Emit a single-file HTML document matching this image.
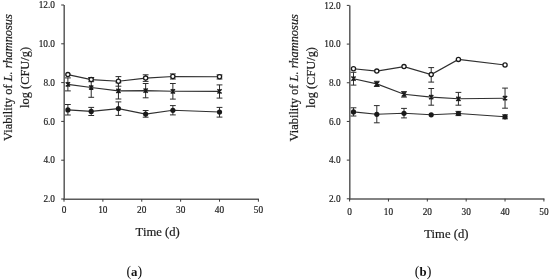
<!DOCTYPE html>
<html><head><meta charset="utf-8"><style>
html,body{margin:0;padding:0;background:#fff;}
body{width:550px;height:280px;overflow:hidden;}
svg{display:block;}

text{font-family:"Liberation Serif", serif;fill:#1c1c1c;}
.tk{font-size:9.3px;stroke:#1c1c1c;stroke-width:0.18px;}
.tt{font-size:12.2px;stroke:#1c1c1c;stroke-width:0.2px;}
.t2{font-size:12.4px;}
.cap{font-size:14px;fill:#111;}
</style></head><body>
<div class="wrap"><svg width="550" height="280" viewBox="0 0 550 280">
<rect width="550" height="280" fill="#fff"/>
<line x1="64.2" y1="5" x2="64.2" y2="199.75" stroke="#5a5a5a" stroke-width="1.5"/>
<line x1="63.45" y1="199.2" x2="258.9" y2="199.2" stroke="#5a5a5a" stroke-width="1.5"/>
<line x1="61.2" y1="5.00" x2="64" y2="5.00" stroke="#383838" stroke-width="1"/>
<text x="55.0" y="8.10" text-anchor="end" class="tk">12.0</text>
<line x1="61.2" y1="43.80" x2="64" y2="43.80" stroke="#383838" stroke-width="1"/>
<text x="55.0" y="46.90" text-anchor="end" class="tk">10.0</text>
<line x1="61.2" y1="82.60" x2="64" y2="82.60" stroke="#383838" stroke-width="1"/>
<text x="55.0" y="85.70" text-anchor="end" class="tk">8.0</text>
<line x1="61.2" y1="121.40" x2="64" y2="121.40" stroke="#383838" stroke-width="1"/>
<text x="55.0" y="124.50" text-anchor="end" class="tk">6.0</text>
<line x1="61.2" y1="160.20" x2="64" y2="160.20" stroke="#383838" stroke-width="1"/>
<text x="55.0" y="163.30" text-anchor="end" class="tk">4.0</text>
<line x1="61.2" y1="199.00" x2="64" y2="199.00" stroke="#383838" stroke-width="1"/>
<text x="55.0" y="202.10" text-anchor="end" class="tk">2.0</text>
<line x1="64.00" y1="199" x2="64.00" y2="201.7" stroke="#383838" stroke-width="1"/>
<text x="64.00" y="212.50" text-anchor="middle" class="tk">0</text>
<line x1="102.88" y1="199" x2="102.88" y2="201.7" stroke="#383838" stroke-width="1"/>
<text x="102.88" y="212.50" text-anchor="middle" class="tk">10</text>
<line x1="141.76" y1="199" x2="141.76" y2="201.7" stroke="#383838" stroke-width="1"/>
<text x="141.76" y="212.50" text-anchor="middle" class="tk">20</text>
<line x1="180.64" y1="199" x2="180.64" y2="201.7" stroke="#383838" stroke-width="1"/>
<text x="180.64" y="212.50" text-anchor="middle" class="tk">30</text>
<line x1="219.52" y1="199" x2="219.52" y2="201.7" stroke="#383838" stroke-width="1"/>
<text x="219.52" y="212.50" text-anchor="middle" class="tk">40</text>
<line x1="258.40" y1="199" x2="258.40" y2="201.7" stroke="#383838" stroke-width="1"/>
<text x="258.40" y="212.50" text-anchor="middle" class="tk">50</text>
<line x1="91.22" y1="77.5" x2="91.22" y2="81.7" stroke="#2c2c2c" stroke-width="1"/>
<line x1="88.32" y1="77.5" x2="94.12" y2="77.5" stroke="#2c2c2c" stroke-width="1"/>
<line x1="88.32" y1="81.7" x2="94.12" y2="81.7" stroke="#2c2c2c" stroke-width="1"/>
<line x1="118.43" y1="76.6" x2="118.43" y2="86.2" stroke="#2c2c2c" stroke-width="1"/>
<line x1="115.53" y1="76.6" x2="121.33" y2="76.6" stroke="#2c2c2c" stroke-width="1"/>
<line x1="115.53" y1="86.2" x2="121.33" y2="86.2" stroke="#2c2c2c" stroke-width="1"/>
<line x1="145.65" y1="74.8" x2="145.65" y2="81.4" stroke="#2c2c2c" stroke-width="1"/>
<line x1="142.75" y1="74.8" x2="148.55" y2="74.8" stroke="#2c2c2c" stroke-width="1"/>
<line x1="142.75" y1="81.4" x2="148.55" y2="81.4" stroke="#2c2c2c" stroke-width="1"/>
<line x1="172.86" y1="73.9" x2="172.86" y2="79.0" stroke="#2c2c2c" stroke-width="1"/>
<line x1="169.96" y1="73.9" x2="175.76" y2="73.9" stroke="#2c2c2c" stroke-width="1"/>
<line x1="169.96" y1="79.0" x2="175.76" y2="79.0" stroke="#2c2c2c" stroke-width="1"/>
<line x1="219.52" y1="74.9" x2="219.52" y2="79.0" stroke="#2c2c2c" stroke-width="1"/>
<line x1="216.62" y1="74.9" x2="222.42" y2="74.9" stroke="#2c2c2c" stroke-width="1"/>
<line x1="216.62" y1="79.0" x2="222.42" y2="79.0" stroke="#2c2c2c" stroke-width="1"/>
<polyline points="67.89,74.60 91.22,79.60 118.43,81.30 145.65,78.10 172.86,76.50 219.52,76.80" fill="none" stroke="#303030" stroke-width="1.1"/>
<line x1="67.89" y1="77.9" x2="67.89" y2="90.9" stroke="#2c2c2c" stroke-width="1"/>
<line x1="64.99" y1="77.9" x2="70.79" y2="77.9" stroke="#2c2c2c" stroke-width="1"/>
<line x1="64.99" y1="90.9" x2="70.79" y2="90.9" stroke="#2c2c2c" stroke-width="1"/>
<line x1="91.22" y1="77.8" x2="91.22" y2="97.3" stroke="#2c2c2c" stroke-width="1"/>
<line x1="88.32" y1="77.8" x2="94.12" y2="77.8" stroke="#2c2c2c" stroke-width="1"/>
<line x1="88.32" y1="97.3" x2="94.12" y2="97.3" stroke="#2c2c2c" stroke-width="1"/>
<line x1="118.43" y1="82.8" x2="118.43" y2="99.0" stroke="#2c2c2c" stroke-width="1"/>
<line x1="115.53" y1="82.8" x2="121.33" y2="82.8" stroke="#2c2c2c" stroke-width="1"/>
<line x1="115.53" y1="99.0" x2="121.33" y2="99.0" stroke="#2c2c2c" stroke-width="1"/>
<line x1="145.65" y1="83.5" x2="145.65" y2="97.8" stroke="#2c2c2c" stroke-width="1"/>
<line x1="142.75" y1="83.5" x2="148.55" y2="83.5" stroke="#2c2c2c" stroke-width="1"/>
<line x1="142.75" y1="97.8" x2="148.55" y2="97.8" stroke="#2c2c2c" stroke-width="1"/>
<line x1="172.86" y1="83.5" x2="172.86" y2="99.1" stroke="#2c2c2c" stroke-width="1"/>
<line x1="169.96" y1="83.5" x2="175.76" y2="83.5" stroke="#2c2c2c" stroke-width="1"/>
<line x1="169.96" y1="99.1" x2="175.76" y2="99.1" stroke="#2c2c2c" stroke-width="1"/>
<line x1="219.52" y1="84.9" x2="219.52" y2="98.1" stroke="#2c2c2c" stroke-width="1"/>
<line x1="216.62" y1="84.9" x2="222.42" y2="84.9" stroke="#2c2c2c" stroke-width="1"/>
<line x1="216.62" y1="98.1" x2="222.42" y2="98.1" stroke="#2c2c2c" stroke-width="1"/>
<polyline points="67.89,84.40 91.22,87.50 118.43,90.90 145.65,90.60 172.86,91.30 219.52,91.40" fill="none" stroke="#303030" stroke-width="1.1"/>
<line x1="67.89" y1="104.5" x2="67.89" y2="115.0" stroke="#2c2c2c" stroke-width="1"/>
<line x1="64.99" y1="104.5" x2="70.79" y2="104.5" stroke="#2c2c2c" stroke-width="1"/>
<line x1="64.99" y1="115.0" x2="70.79" y2="115.0" stroke="#2c2c2c" stroke-width="1"/>
<line x1="91.22" y1="107.4" x2="91.22" y2="115.5" stroke="#2c2c2c" stroke-width="1"/>
<line x1="88.32" y1="107.4" x2="94.12" y2="107.4" stroke="#2c2c2c" stroke-width="1"/>
<line x1="88.32" y1="115.5" x2="94.12" y2="115.5" stroke="#2c2c2c" stroke-width="1"/>
<line x1="118.43" y1="101.9" x2="118.43" y2="115.4" stroke="#2c2c2c" stroke-width="1"/>
<line x1="115.53" y1="101.9" x2="121.33" y2="101.9" stroke="#2c2c2c" stroke-width="1"/>
<line x1="115.53" y1="115.4" x2="121.33" y2="115.4" stroke="#2c2c2c" stroke-width="1"/>
<line x1="145.65" y1="110.5" x2="145.65" y2="117.2" stroke="#2c2c2c" stroke-width="1"/>
<line x1="142.75" y1="110.5" x2="148.55" y2="110.5" stroke="#2c2c2c" stroke-width="1"/>
<line x1="142.75" y1="117.2" x2="148.55" y2="117.2" stroke="#2c2c2c" stroke-width="1"/>
<line x1="172.86" y1="105.6" x2="172.86" y2="114.9" stroke="#2c2c2c" stroke-width="1"/>
<line x1="169.96" y1="105.6" x2="175.76" y2="105.6" stroke="#2c2c2c" stroke-width="1"/>
<line x1="169.96" y1="114.9" x2="175.76" y2="114.9" stroke="#2c2c2c" stroke-width="1"/>
<line x1="219.52" y1="107.4" x2="219.52" y2="117.1" stroke="#2c2c2c" stroke-width="1"/>
<line x1="216.62" y1="107.4" x2="222.42" y2="107.4" stroke="#2c2c2c" stroke-width="1"/>
<line x1="216.62" y1="117.1" x2="222.42" y2="117.1" stroke="#2c2c2c" stroke-width="1"/>
<polyline points="67.89,109.90 91.22,111.40 118.43,108.60 145.65,114.10 172.86,110.30 219.52,112.00" fill="none" stroke="#303030" stroke-width="1.1"/>
<circle cx="67.89" cy="74.6" r="2.1" fill="#fff" stroke="#1a1a1a" stroke-width="1.3"/>
<circle cx="91.22" cy="79.6" r="2.1" fill="#fff" stroke="#1a1a1a" stroke-width="1.3"/>
<circle cx="118.43" cy="81.3" r="2.1" fill="#fff" stroke="#1a1a1a" stroke-width="1.3"/>
<circle cx="145.65" cy="78.1" r="2.1" fill="#fff" stroke="#1a1a1a" stroke-width="1.3"/>
<circle cx="172.86" cy="76.5" r="2.1" fill="#fff" stroke="#1a1a1a" stroke-width="1.3"/>
<circle cx="219.52" cy="76.8" r="2.1" fill="#fff" stroke="#1a1a1a" stroke-width="1.3"/>
<circle cx="67.89" cy="109.9" r="2.6" fill="#1a1a1a"/>
<circle cx="91.22" cy="111.4" r="2.6" fill="#1a1a1a"/>
<circle cx="118.43" cy="108.6" r="2.6" fill="#1a1a1a"/>
<circle cx="145.65" cy="114.1" r="2.6" fill="#1a1a1a"/>
<circle cx="172.86" cy="110.3" r="2.6" fill="#1a1a1a"/>
<circle cx="219.52" cy="112.0" r="2.6" fill="#1a1a1a"/>
<path d="M65.79,82.30L69.99,86.50M65.79,86.50L69.99,82.30M67.89,82.00L67.89,86.80" stroke="#1a1a1a" stroke-width="1.4" fill="none"/>
<path d="M89.12,85.40L93.32,89.60M89.12,89.60L93.32,85.40M91.22,85.10L91.22,89.90" stroke="#1a1a1a" stroke-width="1.4" fill="none"/>
<path d="M116.33,88.80L120.53,93.00M116.33,93.00L120.53,88.80M118.43,88.50L118.43,93.30" stroke="#1a1a1a" stroke-width="1.4" fill="none"/>
<path d="M143.55,88.50L147.75,92.70M143.55,92.70L147.75,88.50M145.65,88.20L145.65,93.00" stroke="#1a1a1a" stroke-width="1.4" fill="none"/>
<path d="M170.76,89.20L174.96,93.40M170.76,93.40L174.96,89.20M172.86,88.90L172.86,93.70" stroke="#1a1a1a" stroke-width="1.4" fill="none"/>
<path d="M217.42,89.30L221.62,93.50M217.42,93.50L221.62,89.30M219.52,89.00L219.52,93.80" stroke="#1a1a1a" stroke-width="1.4" fill="none"/>
<line x1="349.8" y1="5.4" x2="349.8" y2="199.55" stroke="#5a5a5a" stroke-width="1.5"/>
<line x1="349.05" y1="199.0" x2="544.4" y2="199.0" stroke="#5a5a5a" stroke-width="1.5"/>
<line x1="346.8" y1="5.40" x2="349.6" y2="5.40" stroke="#383838" stroke-width="1"/>
<text x="340.6" y="8.50" text-anchor="end" class="tk">12.0</text>
<line x1="346.8" y1="44.08" x2="349.6" y2="44.08" stroke="#383838" stroke-width="1"/>
<text x="340.6" y="47.18" text-anchor="end" class="tk">10.0</text>
<line x1="346.8" y1="82.76" x2="349.6" y2="82.76" stroke="#383838" stroke-width="1"/>
<text x="340.6" y="85.86" text-anchor="end" class="tk">8.0</text>
<line x1="346.8" y1="121.44" x2="349.6" y2="121.44" stroke="#383838" stroke-width="1"/>
<text x="340.6" y="124.54" text-anchor="end" class="tk">6.0</text>
<line x1="346.8" y1="160.12" x2="349.6" y2="160.12" stroke="#383838" stroke-width="1"/>
<text x="340.6" y="163.22" text-anchor="end" class="tk">4.0</text>
<line x1="346.8" y1="198.80" x2="349.6" y2="198.80" stroke="#383838" stroke-width="1"/>
<text x="340.6" y="201.90" text-anchor="end" class="tk">2.0</text>
<line x1="349.60" y1="198.8" x2="349.60" y2="201.5" stroke="#383838" stroke-width="1"/>
<text x="349.60" y="215.00" text-anchor="middle" class="tk">0</text>
<line x1="388.46" y1="198.8" x2="388.46" y2="201.5" stroke="#383838" stroke-width="1"/>
<text x="388.46" y="215.00" text-anchor="middle" class="tk">10</text>
<line x1="427.32" y1="198.8" x2="427.32" y2="201.5" stroke="#383838" stroke-width="1"/>
<text x="427.32" y="215.00" text-anchor="middle" class="tk">20</text>
<line x1="466.18" y1="198.8" x2="466.18" y2="201.5" stroke="#383838" stroke-width="1"/>
<text x="466.18" y="215.00" text-anchor="middle" class="tk">30</text>
<line x1="505.04" y1="198.8" x2="505.04" y2="201.5" stroke="#383838" stroke-width="1"/>
<text x="505.04" y="215.00" text-anchor="middle" class="tk">40</text>
<line x1="543.90" y1="198.8" x2="543.90" y2="201.5" stroke="#383838" stroke-width="1"/>
<text x="543.90" y="215.00" text-anchor="middle" class="tk">50</text>
<line x1="431.21" y1="67.6" x2="431.21" y2="82.1" stroke="#2c2c2c" stroke-width="1"/>
<line x1="428.31" y1="67.6" x2="434.11" y2="67.6" stroke="#2c2c2c" stroke-width="1"/>
<line x1="428.31" y1="82.1" x2="434.11" y2="82.1" stroke="#2c2c2c" stroke-width="1"/>
<polyline points="353.49,68.70 376.80,71.10 404.00,66.60 431.21,74.60 458.41,59.40 505.04,65.00" fill="none" stroke="#303030" stroke-width="1.1"/>
<line x1="353.49" y1="72.3" x2="353.49" y2="85.1" stroke="#2c2c2c" stroke-width="1"/>
<line x1="350.59" y1="72.3" x2="356.39" y2="72.3" stroke="#2c2c2c" stroke-width="1"/>
<line x1="350.59" y1="85.1" x2="356.39" y2="85.1" stroke="#2c2c2c" stroke-width="1"/>
<line x1="376.80" y1="81.3" x2="376.80" y2="86.5" stroke="#2c2c2c" stroke-width="1"/>
<line x1="373.90" y1="81.3" x2="379.70" y2="81.3" stroke="#2c2c2c" stroke-width="1"/>
<line x1="373.90" y1="86.5" x2="379.70" y2="86.5" stroke="#2c2c2c" stroke-width="1"/>
<line x1="404.00" y1="91.6" x2="404.00" y2="97.1" stroke="#2c2c2c" stroke-width="1"/>
<line x1="401.10" y1="91.6" x2="406.90" y2="91.6" stroke="#2c2c2c" stroke-width="1"/>
<line x1="401.10" y1="97.1" x2="406.90" y2="97.1" stroke="#2c2c2c" stroke-width="1"/>
<line x1="431.21" y1="88.5" x2="431.21" y2="105.2" stroke="#2c2c2c" stroke-width="1"/>
<line x1="428.31" y1="88.5" x2="434.11" y2="88.5" stroke="#2c2c2c" stroke-width="1"/>
<line x1="428.31" y1="105.2" x2="434.11" y2="105.2" stroke="#2c2c2c" stroke-width="1"/>
<line x1="458.41" y1="92.4" x2="458.41" y2="105.2" stroke="#2c2c2c" stroke-width="1"/>
<line x1="455.51" y1="92.4" x2="461.31" y2="92.4" stroke="#2c2c2c" stroke-width="1"/>
<line x1="455.51" y1="105.2" x2="461.31" y2="105.2" stroke="#2c2c2c" stroke-width="1"/>
<line x1="505.04" y1="88.1" x2="505.04" y2="108.2" stroke="#2c2c2c" stroke-width="1"/>
<line x1="502.14" y1="88.1" x2="507.94" y2="88.1" stroke="#2c2c2c" stroke-width="1"/>
<line x1="502.14" y1="108.2" x2="507.94" y2="108.2" stroke="#2c2c2c" stroke-width="1"/>
<polyline points="353.49,78.70 376.80,83.90 404.00,94.30 431.21,97.10 458.41,98.80 505.04,98.20" fill="none" stroke="#303030" stroke-width="1.1"/>
<line x1="353.49" y1="107.8" x2="353.49" y2="116.0" stroke="#2c2c2c" stroke-width="1"/>
<line x1="350.59" y1="107.8" x2="356.39" y2="107.8" stroke="#2c2c2c" stroke-width="1"/>
<line x1="350.59" y1="116.0" x2="356.39" y2="116.0" stroke="#2c2c2c" stroke-width="1"/>
<line x1="376.80" y1="105.6" x2="376.80" y2="122.8" stroke="#2c2c2c" stroke-width="1"/>
<line x1="373.90" y1="105.6" x2="379.70" y2="105.6" stroke="#2c2c2c" stroke-width="1"/>
<line x1="373.90" y1="122.8" x2="379.70" y2="122.8" stroke="#2c2c2c" stroke-width="1"/>
<line x1="404.00" y1="108.4" x2="404.00" y2="117.9" stroke="#2c2c2c" stroke-width="1"/>
<line x1="401.10" y1="108.4" x2="406.90" y2="108.4" stroke="#2c2c2c" stroke-width="1"/>
<line x1="401.10" y1="117.9" x2="406.90" y2="117.9" stroke="#2c2c2c" stroke-width="1"/>
<line x1="458.41" y1="111.4" x2="458.41" y2="115.6" stroke="#2c2c2c" stroke-width="1"/>
<line x1="455.51" y1="111.4" x2="461.31" y2="111.4" stroke="#2c2c2c" stroke-width="1"/>
<line x1="455.51" y1="115.6" x2="461.31" y2="115.6" stroke="#2c2c2c" stroke-width="1"/>
<line x1="505.04" y1="114.8" x2="505.04" y2="118.8" stroke="#2c2c2c" stroke-width="1"/>
<line x1="502.14" y1="114.8" x2="507.94" y2="114.8" stroke="#2c2c2c" stroke-width="1"/>
<line x1="502.14" y1="118.8" x2="507.94" y2="118.8" stroke="#2c2c2c" stroke-width="1"/>
<polyline points="353.49,111.90 376.80,114.30 404.00,113.30 431.21,114.80 458.41,113.50 505.04,116.80" fill="none" stroke="#303030" stroke-width="1.1"/>
<circle cx="353.49" cy="68.7" r="2.1" fill="#fff" stroke="#1a1a1a" stroke-width="1.3"/>
<circle cx="376.80" cy="71.1" r="2.1" fill="#fff" stroke="#1a1a1a" stroke-width="1.3"/>
<circle cx="404.00" cy="66.6" r="2.1" fill="#fff" stroke="#1a1a1a" stroke-width="1.3"/>
<circle cx="431.21" cy="74.6" r="2.1" fill="#fff" stroke="#1a1a1a" stroke-width="1.3"/>
<circle cx="458.41" cy="59.4" r="2.1" fill="#fff" stroke="#1a1a1a" stroke-width="1.3"/>
<circle cx="505.04" cy="65.0" r="2.1" fill="#fff" stroke="#1a1a1a" stroke-width="1.3"/>
<circle cx="353.49" cy="111.9" r="2.6" fill="#1a1a1a"/>
<circle cx="376.80" cy="114.3" r="2.6" fill="#1a1a1a"/>
<circle cx="404.00" cy="113.3" r="2.6" fill="#1a1a1a"/>
<circle cx="431.21" cy="114.8" r="2.6" fill="#1a1a1a"/>
<circle cx="458.41" cy="113.5" r="2.6" fill="#1a1a1a"/>
<circle cx="505.04" cy="116.8" r="2.6" fill="#1a1a1a"/>
<path d="M351.39,76.60L355.59,80.80M351.39,80.80L355.59,76.60M353.49,76.30L353.49,81.10" stroke="#1a1a1a" stroke-width="1.4" fill="none"/>
<path d="M374.70,81.80L378.90,86.00M374.70,86.00L378.90,81.80M376.80,81.50L376.80,86.30" stroke="#1a1a1a" stroke-width="1.4" fill="none"/>
<path d="M401.90,92.20L406.10,96.40M401.90,96.40L406.10,92.20M404.00,91.90L404.00,96.70" stroke="#1a1a1a" stroke-width="1.4" fill="none"/>
<path d="M429.11,95.00L433.31,99.20M429.11,99.20L433.31,95.00M431.21,94.70L431.21,99.50" stroke="#1a1a1a" stroke-width="1.4" fill="none"/>
<path d="M456.31,96.70L460.51,100.90M456.31,100.90L460.51,96.70M458.41,96.40L458.41,101.20" stroke="#1a1a1a" stroke-width="1.4" fill="none"/>
<path d="M502.94,96.10L507.14,100.30M502.94,100.30L507.14,96.10M505.04,95.80L505.04,100.60" stroke="#1a1a1a" stroke-width="1.4" fill="none"/>
<text transform="translate(11.9,77.55) rotate(-90)" text-anchor="middle" class="tt" textLength="126.8" lengthAdjust="spacingAndGlyphs">Viability of <tspan font-style="italic">L. rhamnosus</tspan></text>
<text transform="translate(28.9,77.45) rotate(-90)" text-anchor="middle" class="tt t2">log (CFU/g)</text>
<text transform="translate(297.9,77.75) rotate(-90)" text-anchor="middle" class="tt" textLength="127.4" lengthAdjust="spacingAndGlyphs">Viability of <tspan font-style="italic">L. rhamnosus</tspan></text>
<text transform="translate(315.0,77.5) rotate(-90)" text-anchor="middle" class="tt t2">log (CFU/g)</text>
<text x="157.7" y="236.3" text-anchor="middle" class="tt" textLength="44.2" lengthAdjust="spacingAndGlyphs">Time (d)</text>
<text x="446.35" y="238.0" text-anchor="middle" class="tt" textLength="44.2" lengthAdjust="spacingAndGlyphs">Time (d)</text>
<text x="134.3" y="275.8" text-anchor="middle" class="cap">(<tspan font-weight="bold" font-size="12.8px">a</tspan>)</text>
<text x="423.1" y="276.2" text-anchor="middle" class="cap">(<tspan font-weight="bold" font-size="12.8px">b</tspan>)</text>
</svg></div>
</body></html>
